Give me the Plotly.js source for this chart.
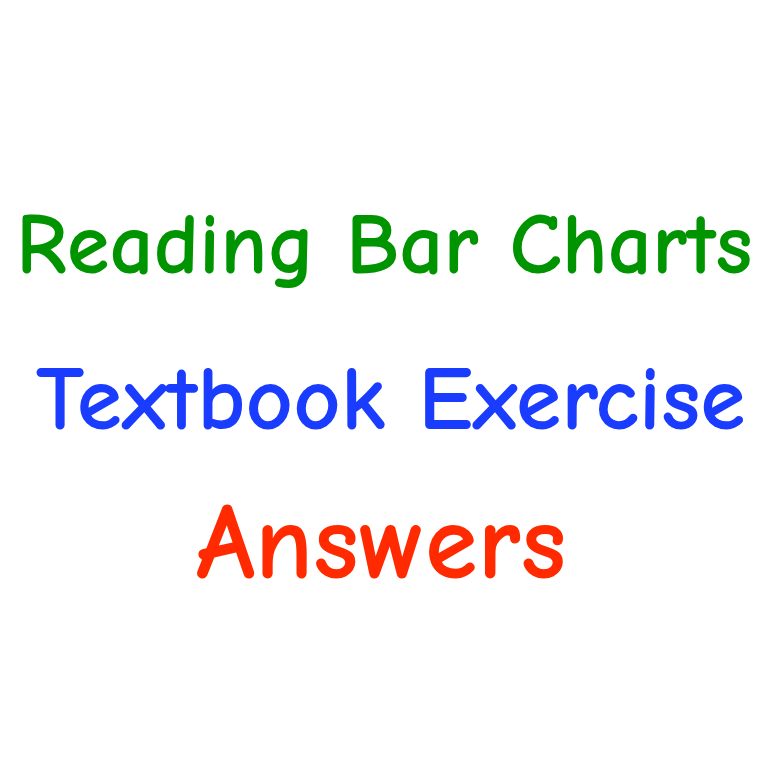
<!DOCTYPE html>
<html>
<head>
<meta charset="utf-8">
<script src="https://cdn.plot.ly/plotly-3.0.1.min.js"></script>
<style>
  html, body { margin: 0; padding: 0; background: #fff; }
  #chart { width: 780px; height: 780px; }
</style>
</head>
<body>
<div id="chart"></div>
<script>
  // Title card text, one entry per line.
  const lines = ["Reading Bar Charts", "Textbook Exercise", "Answers"];
  const lineColors = ["#009400", "#1a3cff", "#ff2a00"];

  const FONT = "'Comic Sans MS', 'Comic Neue', 'Noto Sans', sans-serif";
  const rowX = [0.492, 0.5, 0.488];
  const rowY = [0.686, 0.489, 0.303];
  const rowSize = [87, 92, 107];

  const annotations = lines.map((t, i) => ({
    text: "<b>" + t + "</b>",
    xref: "paper", yref: "paper",
    x: rowX[i], y: rowY[i],
    xanchor: "center", yanchor: "middle",
    showarrow: false,
    font: { family: FONT, size: rowSize[i], color: lineColors[i] },
  }));

  Plotly.newPlot("chart", [], {
    width: 780, height: 780,
    margin: { t: 0, r: 0, b: 0, l: 0 },
    paper_bgcolor: "#fff", plot_bgcolor: "#fff",
    xaxis: { visible: false }, yaxis: { visible: false },
    showlegend: false,
    annotations,
  }, { displayModeBar: false, staticPlot: true });
</script>
</body>
</html>
